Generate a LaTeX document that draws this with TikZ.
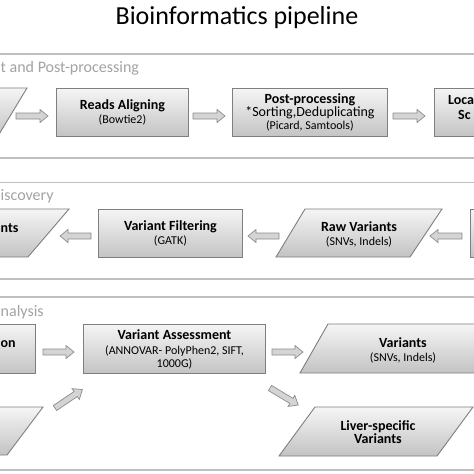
\documentclass[tikz,border=0pt]{standalone}
\usepackage{fontspec}
\setmainfont{Carlito}
\definecolor{boxline}{HTML}{7F7F7F}
\definecolor{boxtop}{HTML}{F5F5F5}
\definecolor{boxbot}{HTML}{C3C3C3}
\definecolor{arrfill}{HTML}{D4D4D4}
\definecolor{arrline}{HTML}{8C8C8C}
\definecolor{panelline}{HTML}{BFBFBF}
\definecolor{labelgray}{HTML}{A3A3A3}
\newcommand\hd[1]{{\fontsize{14}{15}\selectfont\bfseries #1}}
\begin{document}
\begin{tikzpicture}[x=1pt,y=-1pt,
  stepbox/.style={draw=boxline, line width=0.9pt, top color=boxtop, bottom color=boxbot},
  rectbox/.style={stepbox, inner sep=0pt, anchor=north west, align=center,
    font=\fontsize{12}{13}\selectfont},
  txt/.style={inner sep=0pt, align=center, font=\fontsize{12}{13}\selectfont},
  panel/.style={draw=panelline, line width=1.1pt},
  plabel/.style={text=labelgray, font=\fontsize{16}{18}\selectfont, anchor=base west, inner sep=0pt},
  arrowstyle/.style={draw=arrline, fill=arrfill, line width=0.7pt},
  pics/barrow/.style={code={
    \draw[arrowstyle] (0,-3)--({#1-8},-3)--({#1-8},-6.5)--(#1,0)--({#1-8},6.5)--({#1-8},3)--(0,3)--cycle;}}
]
\useasboundingbox (0,0) rectangle (474,474);
\clip (0,0) rectangle (474,474);
\fill[white] (0,0) rectangle (474,474);

% title
\node[inner sep=0pt, anchor=base, font=\fontsize{26}{30}\selectfont] (title) at (237,24) {Bioinformatics pipeline};

% panels
\draw[panel] (-10,54) rectangle (484,158);
\draw[panel] (-10,182.5) rectangle (484,279);
\draw[panel] (-10,297) rectangle (484,470);
\node[plabel] (lab1) at (0.5,72) {t and Post-processing};
\node[plabel] (lab2) at (0.5,200) {iscovery};
\node[plabel] (lab3) at (0.5,316) {nalysis};

% ---- row 1
\path[stepbox] (-150,88) -- (27,88) -- (-2,136) -- (-180,136) -- cycle;
\coordinate (a1) at (16,116);
\pic at (a1) {barrow=32};
\node[rectbox, minimum width=132pt, minimum height=48pt] (reads) at (56,88)
  {\hd{Reads Aligning}\\[1pt](Bowtie2)};
\coordinate (a2) at (193,116);
\pic at (a2) {barrow=32};
\node[rectbox, minimum width=155pt, minimum height=48pt] (post) at (232,88)
  {\hd{Post-processing}\\{\fontsize{14}{14}\selectfont *Sorting,Deduplicating}\\(Picard, Samtools)};
\coordinate (a3) at (393,116);
\pic at (a3) {barrow=32};
\node[rectbox, minimum width=140pt, minimum height=48pt] (loc) at (434,88) {};
\node[txt, anchor=base west] (loca) at (448,104) {\hd{Loca}};
\node[txt, anchor=base west] (sc) at (458,119) {\hd{Sc}};

% ---- row 2
\path[stepbox] (-150,209) -- (69,209) -- (28,257) -- (-190,257) -- cycle;
\node[txt, anchor=base west] (nts) at (0.5,232) {\hd{nts}};
\coordinate (b1) at (91,236);
\pic[rotate=180] at (b1) {barrow=31};
\node[rectbox, minimum width=144pt, minimum height=48pt] (filt) at (98,209)
  {\hd{Variant Filtering}\\[1pt](GATK)};
\coordinate (b2) at (279,236);
\pic[rotate=180] at (b2) {barrow=31};
\path[stepbox] (305,209) -- (442,209) -- (410,257) -- (276,257) -- cycle;
\node[txt] (raw) at (359,234) {\hd{Raw Variants}\\[1pt](SNVs, Indels)};
\coordinate (b3) at (462,236);
\pic[rotate=180] at (b3) {barrow=32};
\node[rectbox, minimum width=120pt, minimum height=48pt] (rbox) at (470,209) {};

% ---- row 3
\node[rectbox, minimum width=135pt, minimum height=49pt] (lbox) at (-100,324) {};
\node[txt, anchor=base west] (on) at (0.5,347) {\hd{on}};
\coordinate (c1) at (43,352);
\pic at (c1) {barrow=31};
\node[rectbox, minimum width=182pt, minimum height=49pt] (assess) at (83,324)
  {\hd{Variant Assessment}\\[2pt](ANNOVAR- PolyPhen2, SIFT,\\1000G)};
\coordinate (c2) at (272,352);
\pic at (c2) {barrow=31};
\path[stepbox] (328,324) -- (530,324) -- (502,373) -- (300,373) -- cycle;
\node[txt] (var) at (403,350) {\hd{Variants}\\[1pt](SNVs, Indels)};

% ---- lower row
\path[stepbox] (-150,407) -- (43,407) -- (7,455) -- (-190,455) -- cycle;
\coordinate (d1) at (55,408);
\pic[rotate=34] at (d1) {barrow=33};
\coordinate (d2) at (270,388);
\pic[rotate=-31] at (d2) {barrow=33};
\path[stepbox] (315,407) -- (473,407) -- (437,456) -- (279,456) -- cycle;
\node[txt] (liver) at (378,432) {\hd{Liver-specific}\\\hd{Variants}};
\end{tikzpicture}
\end{document}
